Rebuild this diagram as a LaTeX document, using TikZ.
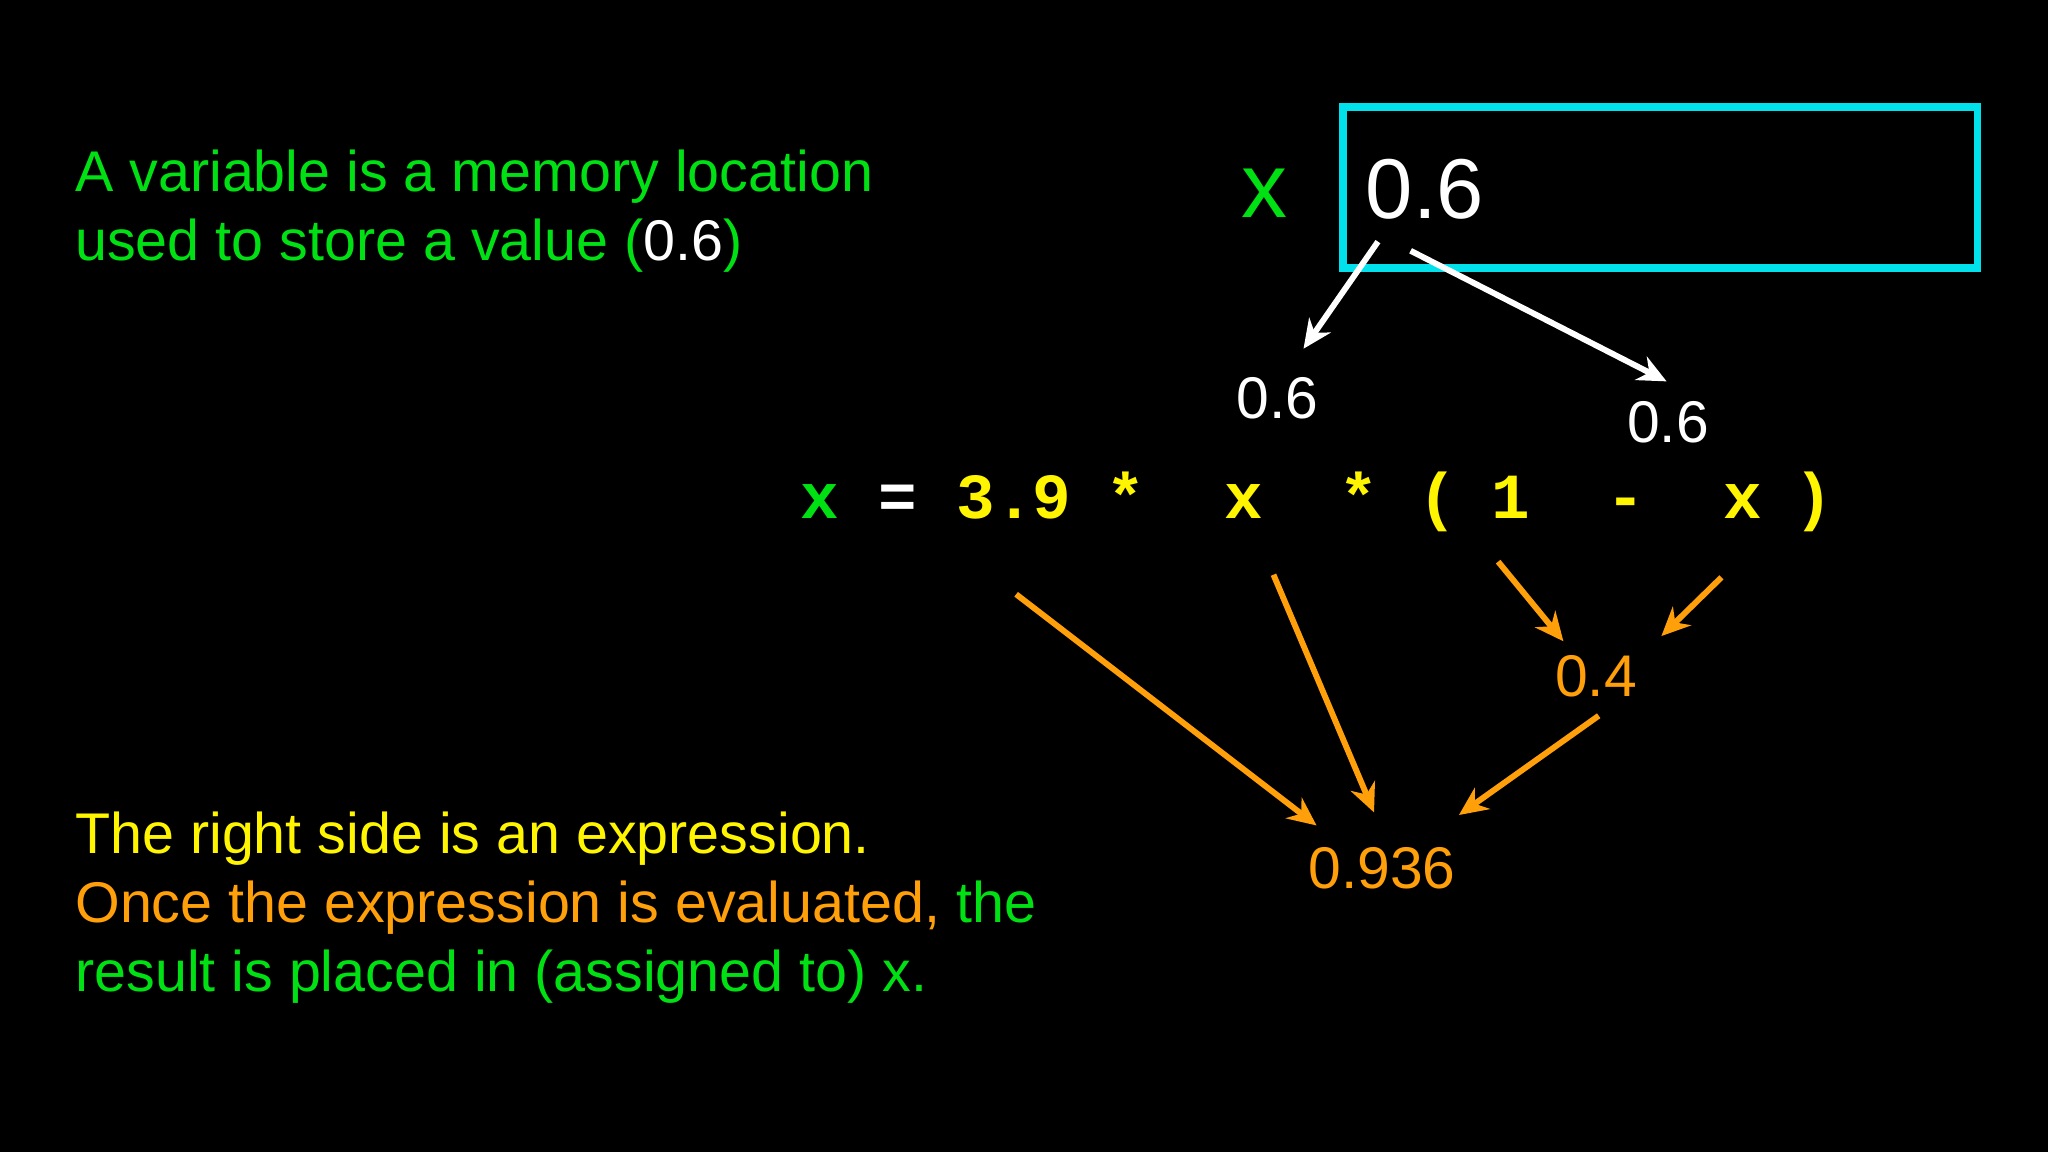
\documentclass[tikz,border=0pt]{standalone}
\usepackage{fontspec}
\setmainfont{Liberation Sans}
\newfontfamily\monob{Liberation Mono}
\usetikzlibrary{arrows.meta}
\definecolor{gr}{RGB}{0,225,20}
\definecolor{ye}{RGB}{255,245,0}
\definecolor{orr}{RGB}{255,160,10}
\definecolor{cy}{RGB}{0,225,235}
\tikzset{
  txt/.style={anchor=west,inner sep=0pt,font=\fontsize{12.5pt}{15pt}\selectfont},
  val/.style={inner sep=0pt,font=\fontsize{12.8pt}{15pt}\selectfont},
  ch/.style={anchor=base,inner sep=0pt,font=\monob\bfseries\fontsize{14pt}{16pt}\selectfont,color=ye},
  warr/.style={white,line width=0.45mm,-{Stealth[length=2.2mm,width=2mm]}},
  oarr/.style={orr,line width=0.45mm,-{Stealth[length=2.2mm,width=2mm]}},
}
\begin{document}
\begin{tikzpicture}[x=0.01cm,y=-0.01cm]
\fill[black] (0,0) rectangle (1568,882);
\useasboundingbox (0,0) rectangle (1568,882);
\node[txt,gr] (t1) at (57,135) {A variable is a memory location};
\node[txt,gr] (t2) at (57,188) {used to store a value (\textcolor{white}{0.6})};
\node[inner sep=0pt,gr,font=\fontsize{20pt}{22pt}\selectfont] (xl) at (968,148) {x};
\draw[cy,line width=0.6mm] (1028,82) rectangle (1514,205);
\node[anchor=west,inner sep=0pt,white,font=\fontsize{18.5pt}{22pt}\selectfont] (v) at (1045,145) {0.6};
\coordinate (a1) at (1055,185); \coordinate (a2) at (1080,192);
\node[val,white] (l1) at (978,305) {0.6};
\node[val,white] (l2) at (1277,323) {0.6};
\draw[warr] (a1) -- (998,267);
\draw[warr] (a2) -- (1276,292);
% expression
\node[ch,gr] (c1) at (628,397) {x};
\node[ch,white] (c2) at (687,397) {=};
\node[ch] (c3) at (747,397) {3};
\node[ch] (c4) at (777,397) {.};
\node[ch] (c5) at (805,397) {9};
\node[ch] (c6) at (862,397) {*};
\node[ch] (c7) at (952,397) {x};
\node[ch] (c8) at (1040,397) {*};
\node[ch] (c9) at (1101,397) {(};
\node[ch] (c10) at (1157,397) {1};
\node[ch] (c11) at (1245,397) {-};
\node[ch] (c12) at (1334,397) {x};
\node[ch] (c13) at (1389,397) {)};
\node[val,orr] (r4) at (1222,518) {0.4};
\node[val,orr] (r9) at (1058,665) {0.936};
\coordinate (s1) at (778,455); \coordinate (s2) at (975,440);
\coordinate (s3) at (1147,430); \coordinate (s4) at (1318,442);
\coordinate (s5) at (1224,548);
\draw[oarr] (s1) -- (1008,632);
\draw[oarr] (s2) -- (1052,622);
\draw[oarr] (s3) -- (1197,491);
\draw[oarr] (s4) -- (1272,487);
\draw[oarr] (s5) -- (1117,624);
\node[txt,ye] (b1) at (57,642) {The right side is an expression.};
\node[txt,orr] (b2) at (57,695) {Once the expression is evaluated,\textcolor{gr}{\ the}};
\node[txt,gr] (b3) at (57,748) {result is placed in (assigned to) x.};
\end{tikzpicture}
\end{document}
